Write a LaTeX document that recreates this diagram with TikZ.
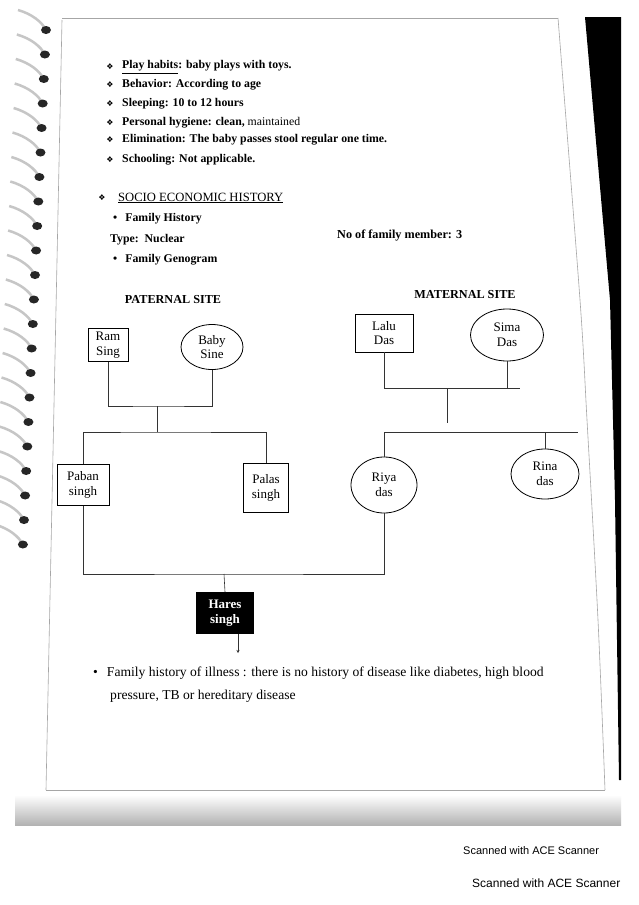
\documentclass[tikz,border=0pt]{standalone}
\usepackage{fontspec}
\setmainfont{Liberation Serif}
\newfontfamily\symfont{DejaVu Sans}
\newfontfamily\scanfont{Liberation Sans}
\usetikzlibrary{shapes.geometric, arrows.meta}

\begin{document}
\begin{tikzpicture}[x=1pt, y=-1pt,
    item/.style={anchor=west, inner sep=0pt, font=\fontsize{11.8}{13}\selectfont\bfseries},
    bulletsym/.style={inner sep=0pt, font=\symfont\fontsize{8}{8}\selectfont},
    heading/.style={inner sep=0pt, font=\fontsize{12.2}{14}\selectfont\bfseries},
    person/.style={draw, line width=0.8pt, align=center, inner sep=1pt, font=\fontsize{13}{14.5}\selectfont},
    male/.style={person, rectangle},
    female/.style={person, ellipse},
    link/.style={line width=0.6pt, black!80},
    frame/.style={gray!70, line width=0.6pt}]
    \useasboundingbox (0,0) rectangle (638,905);
    \fill[white] (0,0) rectangle (638,905);

    % scanned page: binding, edges, shadow
    \foreach \i in {0,...,21} {
        \pgfmathsetmacro\ry{30+24.5*\i}
        \pgfmathsetmacro\rx{46-1.1*\i}
        \draw[line width=2.5pt, gray!45] (\rx-28,\ry-20) .. controls (\rx-14,\ry-16) and (\rx-4,\ry-8) .. (\rx,\ry);
        \fill[black!85] (\rx,\ry) ellipse (5 and 4);
    }
    \fill[black] (585,17) -- (621,17) -- (621,780) -- (619,780) -- (615,500) -- (610,300) -- cycle;
    \draw[frame] (62,18) -- (558,18);
    \draw[frame] (62,20) -- (46,790);
    \draw[frame] plot[smooth] coordinates {(558,18) (580,300) (587,420) (598,620) (605,790)};
    \draw[frame] (46,790) -- (605,790);
    \shade[top color=white, bottom color=gray!60] (15,795) rectangle (621,825);

    % list of habits
    \foreach \y in {67,85,104,123,140,160}
        \node[bulletsym] at (110,\y) {❖};
    \node[item] (hab) at (122,67)  {\underline{Play habits}: baby plays with toys.};
    \node[item] (beh) at (122,85)  {Behavior: According to age};
    \node[item] (slp) at (122,104) {Sleeping: 10 to 12 hours};
    \node[item] (hyg) at (122,123) {Personal hygiene: clean, \mdseries maintained};
    \node[item] (eli) at (122,140) {Elimination: The baby passes stool regular one time.};
    \node[item] (sch) at (122,160) {Schooling: Not applicable.};

    \node[bulletsym] at (102,198) {❖};
    \node[item, font=\fontsize{12.6}{14}\selectfont] (soc) at (118,198) {\underline{SOCIO ECONOMIC HISTORY}};
    \node[item] (fhi) at (113,219) {•\hspace{8pt}Family History};
    \node[item] (typ) at (110,240) {Type:\ \ Nuclear};
    \node[item, font=\fontsize{12.2}{14}\selectfont\bfseries] (mem) at (337,236) {No of family member: 3};
    \node[item] (gen) at (113,260) {•\hspace{8pt}Family Genogram};

    % genogram
    \node[heading] (pat) at (173,300) {PATERNAL SITE};
    \node[heading] (mat) at (465,295) {MATERNAL SITE};

    \node[male, minimum width=40, minimum height=33] (ram) at (108,345) {Ram\\Sing};
    \node[female, minimum width=62, minimum height=45] (baby) at (212,347) {Baby\\Sine};
    \node[male, minimum width=58, minimum height=38] (lalu) at (384,333) {Lalu\\Das};
    \node[female, minimum width=73, minimum height=52] (sima) at (507,335) {Sima\\Das};
    \node[male, minimum width=52, minimum height=41] (paban) at (83,485) {Paban\\singh};
    \node[male, minimum width=45, minimum height=49] (palas) at (266,488) {Palas\\singh};
    \node[female, minimum width=66, minimum height=56] (riya) at (384,485) {Riya\\das};
    \node[female, minimum width=68, minimum height=50] (rina) at (545,474) {Rina\\das};
    \node[person, fill=black, text=white, font=\fontsize{13}{14.5}\selectfont\bfseries,
          minimum width=57, minimum height=41] (hares) at (225,613) {Hares\\singh};

    \coordinate (patcpl) at (157,406);
    \coordinate (patsib) at (157,432);
    \coordinate (matcpl) at (447,388);
    \coordinate (matend) at (520,388);
    \coordinate (matsib) at (447,423);
    \coordinate (matsibend) at (578,432);
    \coordinate (couple) at (224,574);
    \coordinate (arrowend) at (238,653);

    \draw[link] (ram.south) |- (patcpl) -| (baby.south);
    \draw[link] (patcpl) -- (patsib);
    \draw[link] (paban.north) |- (patsib) -| (palas.north);

    \draw[link] (lalu.south) |- (matend);
    \draw[link] (sima.south) -- (sima.south |- matend);
    \draw[link] (matcpl) -- (matsib);
    \draw[link] (riya.north) |- (matsibend);
    \draw[link] (rina.north) -- (rina.north |- matsibend);

    \draw[link] (paban.south) |- (couple) -| (riya.south);
    \draw[link] (couple) -- (hares.north);
    \draw[link, -{Stealth[length=3pt, width=3pt]}] (hares.south -| arrowend) -- (arrowend);

    % illness
    \node[item, font=\fontsize{13.6}{15}\selectfont] (ill) at (93,673)
        {•\hspace{9pt}Family history of illness : there is no history of disease like diabetes, high blood};
    \node[item, font=\fontsize{13.6}{15}\selectfont] (ill2) at (110,696) {pressure, TB or hereditary disease};

    % scanner stamp
    \node[item, font=\scanfont\fontsize{11}{13}\selectfont] (scan1) at (463,851) {Scanned with ACE Scanner};
    \node[item, font=\scanfont\fontsize{12}{14}\selectfont] (scan2) at (472,883) {Scanned with ACE Scanner};
\end{tikzpicture}
\end{document}
